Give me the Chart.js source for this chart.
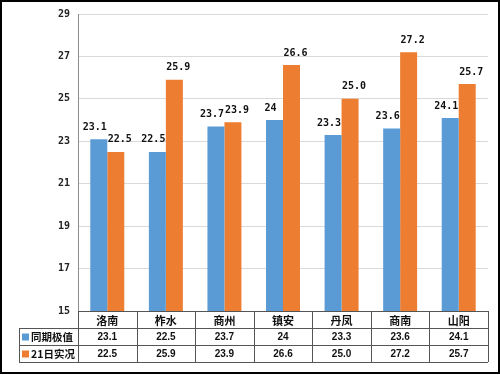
<!DOCTYPE html>
<html>
<head>
<meta charset="utf-8">
<script src="https://cdn.jsdelivr.net/npm/chart.js@4"></script>
<style>
  html, body { margin: 0; padding: 0; background: #fff; }
  canvas { display: block; }
</style>
</head>
<body>
<canvas id="chart" width="500" height="375"></canvas>
<script>
const categories = ['洛南', '柞水', '商州', '镇安', '丹凤', '商南', '山阳'];
const seriesNames = ['同期极值', '21日实况'];
const historicalMax = [23.1, 22.5, 23.7, 24, 23.3, 23.6, 24.1];
const observed21 = [22.5, 25.9, 23.9, 26.6, 25.0, 27.2, 25.7];
const yTicks = [15, 17, 19, 21, 23, 25, 27, 29];

const blue = '#5b9bd5';
const orange = '#ed7d31';
const cjk = '"Noto Sans CJK SC", sans-serif';
const mono = '"DejaVu Sans Mono", monospace';

// "24" stays as is, "25.0" keeps its decimal
const formats = [(v) => String(v), (v) => v.toFixed(1)];

const frame = {
  id: 'frame',
  beforeDraw(chart) {
    const { ctx, width, height } = chart;
    ctx.save();
    ctx.fillStyle = '#fff';
    ctx.fillRect(0, 0, width, height);
    ctx.restore();
  },
  afterDraw(chart) {
    const { ctx, width, height } = chart;
    ctx.save();
    ctx.strokeStyle = '#000';
    ctx.lineWidth = 2;
    ctx.strokeRect(1, 1, width - 2, height - 3);
    ctx.restore();
  },
};

const valueLabels = {
  id: 'valueLabels',
  afterDatasetsDraw(chart) {
    const { ctx } = chart;
    const shift = [-4, 4]; // labels lean away from the neighbouring bar
    ctx.save();
    ctx.font = 'bold 10px ' + mono;
    ctx.fillStyle = '#111';
    ctx.textAlign = 'center';
    ctx.textBaseline = 'bottom';
    chart.data.datasets.forEach((ds, di) => {
      chart.getDatasetMeta(di).data.forEach((bar, i) => {
        ctx.fillText(formats[di](ds.data[i]), bar.x + shift[di], bar.y - 7);
      });
    });
    ctx.restore();
  },
};

const dataTable = {
  id: 'dataTable',
  afterDraw(chart) {
    const { ctx, chartArea: area } = chart;
    const xs = chart.scales.x;
    const rowH = 17;
    const top = area.bottom;
    const legendLeft = 19;
    const colW = (area.right - area.left) / categories.length;
    const y1 = top + rowH, y2 = top + rowH * 2, y3 = top + rowH * 3;

    ctx.save();
    ctx.strokeStyle = '#555';
    ctx.lineWidth = 1;
    ctx.beginPath();
    ctx.moveTo(area.left, top + 0.5); ctx.lineTo(area.right, top + 0.5);
    [y1, y2, y3].forEach((y) => {
      ctx.moveTo(legendLeft, y + 0.5); ctx.lineTo(area.right, y + 0.5);
    });
    ctx.moveTo(legendLeft + 0.5, y1); ctx.lineTo(legendLeft + 0.5, y3);
    for (let i = 0; i <= categories.length; i++) {
      const x = Math.round(area.left + i * colW) + 0.5;
      ctx.moveTo(x, top); ctx.lineTo(x, y3);
    }
    ctx.stroke();

    ctx.fillStyle = '#111';
    ctx.textAlign = 'center';
    ctx.textBaseline = 'middle';
    ctx.font = 'bold 11px ' + cjk;
    categories.forEach((c, i) => {
      ctx.fillText(c, xs.getPixelForValue(i), top + rowH / 2 + 1);
    });

    const rows = [historicalMax, observed21];
    const colors = [blue, orange];
    rows.forEach((vals, r) => {
      const cy = y1 + rowH * r + rowH / 2 + 1;
      ctx.fillStyle = colors[r];
      ctx.fillRect(22, cy - 4, 7, 7);
      ctx.fillStyle = '#111';
      ctx.textAlign = 'left';
      ctx.font = 'bold 10.5px ' + cjk;
      ctx.fillText(seriesNames[r], 31, cy);
      ctx.textAlign = 'center';
      ctx.font = 'bold 10px "Liberation Sans", sans-serif';
      vals.forEach((v, i) => {
        ctx.fillText(formats[r](v), xs.getPixelForValue(i), cy);
      });
    });
    ctx.restore();
  },
};

new Chart(document.getElementById('chart'), {
  type: 'bar',
  data: {
    labels: categories,
    datasets: [
      { label: seriesNames[0], data: historicalMax, backgroundColor: blue },
      { label: seriesNames[1], data: observed21, backgroundColor: orange },
    ],
  },
  options: {
    responsive: false,
    devicePixelRatio: 1,
    animation: false,
    categoryPercentage: 0.58,
    barPercentage: 1,
    layout: { padding: { left: 0, right: 12, top: 13, bottom: 64 } },
    plugins: {
      legend: { display: false },
      tooltip: { enabled: false },
    },
    scales: {
      x: {
        ticks: { display: false },
        grid: { display: false },
        border: { display: false },
        afterFit(s) { s.height = 0; },
      },
      y: {
        min: 15,
        max: 29,
        afterBuildTicks(s) { s.ticks = yTicks.map((v) => ({ value: v })); },
        afterFit(s) { s.width = 78; },
        ticks: {
          font: { family: mono, size: 10, weight: 'bold' },
          color: '#222',
          padding: 8,
        },
        grid: { color: '#d9d9d9', drawTicks: false },
        border: { color: '#8c8c8c' },
      },
    },
  },
  plugins: [frame, valueLabels, dataTable],
});
</script>
</body>
</html>
